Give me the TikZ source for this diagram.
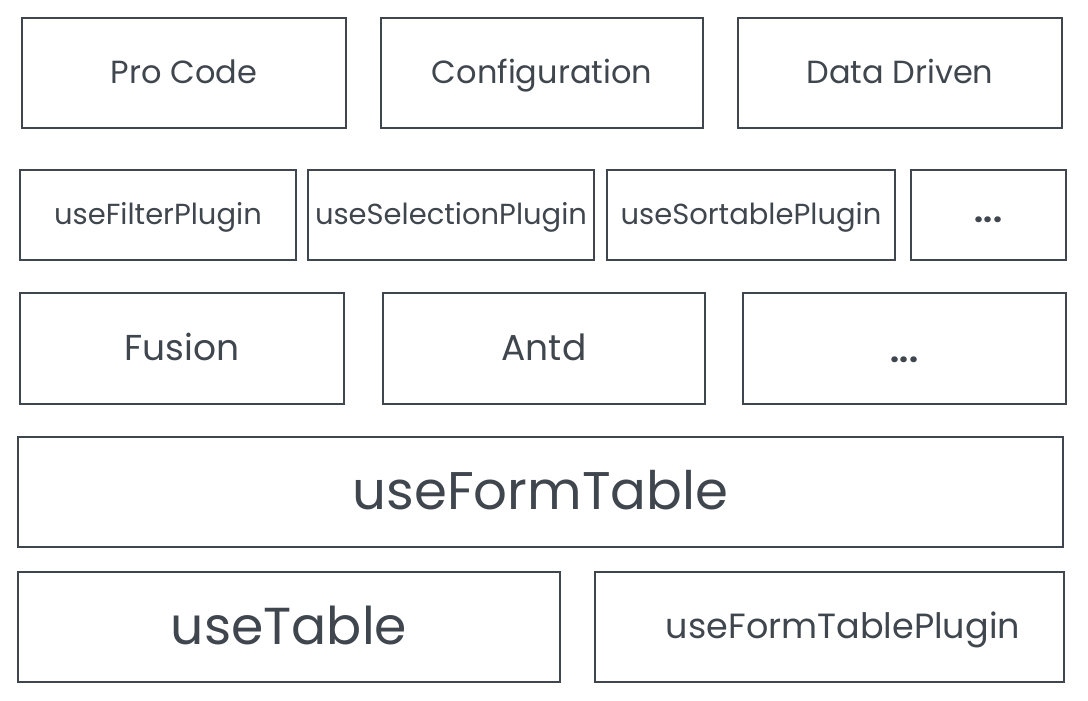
\documentclass[tikz,border=0pt]{standalone}
\usepackage{fontspec}
\setmainfont{Poppins}
\usetikzlibrary{positioning}
\definecolor{Ink}{HTML}{40464D}

\tikzset{
  txt/.style={font=\fontsize{#1}{#1}\selectfont,text height=0.72*#1pt,text depth=0.05*#1pt},
  layerbox/.style={draw=Ink,line width=1.8pt,rectangle,inner sep=0pt,text=Ink,txt=32},
  pluginbox/.style={layerbox,minimum height=90pt,txt=29},
  dotsbox/.style={layerbox,font=\fontsize{32}{32}\selectfont\bfseries,text depth=0pt,text height=#1},
}

\begin{document}
\begin{tikzpicture}[x=1pt,y=-1pt]
\useasboundingbox (0,0) rectangle (1088,701);
% top row: ways of use
\node[layerbox,minimum width=324pt,minimum height=110pt] (procode) at (184,73) {Pro Code};
\node[layerbox,minimum width=322pt,minimum height=110pt] (config) at (542,73) {Configuration};
\node[layerbox,minimum width=324pt,minimum height=110pt] (datadriven) at (900,73) {Data Driven};
% plugins
\node[pluginbox,minimum width=276pt] (filter) at (158,215) {useFilterPlugin};
\node[pluginbox,minimum width=286pt] (selection) at (451,215) {useSelectionPlugin};
\node[pluginbox,minimum width=288pt] (sortable) at (751,215) {useSortablePlugin};
\node[dotsbox=14pt,minimum width=155pt,minimum height=90pt] (moreplugins) at (988.5,215) {...};
% component libraries
\node[layerbox,minimum width=324pt,minimum height=111pt,txt=36] (fusion) at (182,348.5) {Fusion};
\node[layerbox,minimum width=322pt,minimum height=111pt,txt=36] (antd) at (544,348.5) {Antd};
\node[dotsbox=27pt,minimum width=323pt,minimum height=111pt] (morelibs) at (904.5,348.5) {...};
% core
\node[layerbox,minimum width=1045pt,minimum height=110pt,txt=53] (formtable) at (540.5,492) {useFormTable};
\node[layerbox,minimum width=542pt,minimum height=110pt,txt=52] (table) at (289,627) {useTable};
\node[layerbox,minimum width=469pt,minimum height=110pt,txt=35] (formplugin) at (829.5,627) {\hspace{27pt}useFormTablePlugin};
\end{tikzpicture}
\end{document}
